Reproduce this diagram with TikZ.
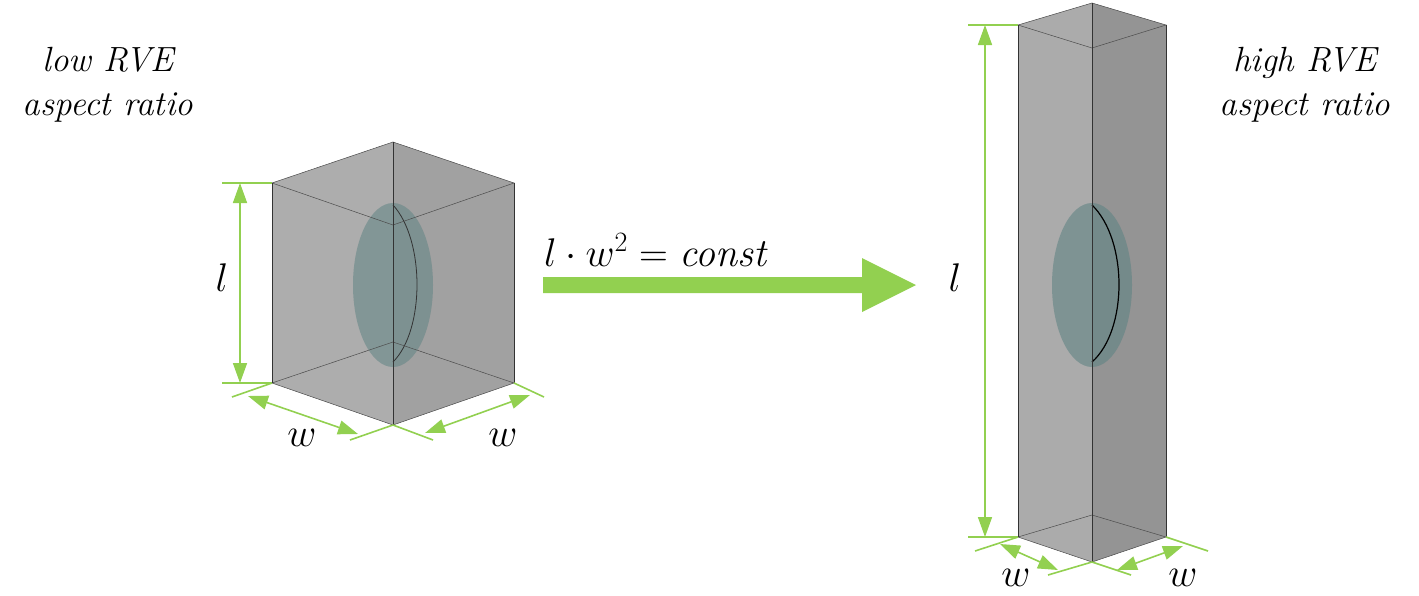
\RequirePackage{fix-cm}
\documentclass[tikz,border=0pt]{standalone}
\usetikzlibrary{arrows.meta}
\begin{document}
\begin{tikzpicture}[x=1pt,y=-1pt,
  lab/.style={font=\fontsize{40}{46}\selectfont, inner sep=0pt},
  ttl/.style={font=\itshape\fontsize{35}{44}\selectfont, align=center, inner sep=0pt},
  edge/.style={draw=black!80, line width=0.8pt},
  hid/.style={draw=black!70, line width=0.5pt}]
\definecolor{gr}{RGB}{146,208,80}
\definecolor{teal1}{RGB}{96,132,132}
\useasboundingbox (0,0) rectangle (1419,595);
\tikzset{dim/.style={draw=gr, line width=1.6pt},
  dima/.style={dim,{Triangle[length=20pt,width=14pt]}-{Triangle[length=20pt,width=14pt]}}}
% titles
\node[ttl] (t1) at (108,85) {low RVE\\aspect ratio};
\node[ttl] (t2) at (1305,85) {high RVE\\aspect ratio};
% left cube
\fill[black!32] (272,183) -- (393,142) -- (393,425) -- (272,383) -- cycle;
\fill[black!37] (514,183) -- (393,142) -- (393,425) -- (514,383) -- cycle;
\fill[teal1] (393,285) ellipse [x radius=40, y radius=82];
\fill[black!32, opacity=0.45] (272,183) -- (393,142) -- (393,425) -- (272,383) -- cycle;
\fill[black!37, opacity=0.45] (514,183) -- (393,142) -- (393,425) -- (514,383) -- cycle;
\draw[black!80, line width=0.8pt] (393,205) .. controls (425,240) and (425,330) .. (393,362);
\draw[hid] (272,183) -- (393,142) -- (514,183) -- (393,225) -- cycle;
\draw[hid] (272,383) -- (393,342) -- (514,383) -- (393,425) -- cycle;
\draw[edge] (272,183) -- (272,383) (514,183) -- (514,383) (393,142) -- (393,425);
% left dims
\coordinate (la) at (240,183); \coordinate (lb) at (240,383);
\draw[dim] (222,183) -- (272,183) (222,383) -- (272,383);
\draw[dima] (la) -- (lb);
\node[lab] (l1) at (222,278) {$l$};
\draw[dim] (272,383) -- (232,397) (393,425) -- (350,440) (393,425) -- (433,440) (514,383) -- (544,397);
\coordinate (w1a) at (248,396); \coordinate (w1b) at (358,434);
\coordinate (w2a) at (425,433); \coordinate (w2b) at (530,395);
\draw[dima] (w1a) -- (w1b);
\draw[dima] (w2a) -- (w2b);
\node[lab] (w1) at (302,438) {$w$};
\node[lab] (w2) at (503,438) {$w$};
% main arrow
\fill[gr] (543,277) -- (862,277) -- (862,258) -- (916,285) -- (862,312) -- (862,293) -- (543,293) -- cycle;
\node[lab, anchor=west] (eq) at (544,250) {$l\cdot w^2 = \mathit{const}$};
% right box
\fill[black!33] (1018,25) -- (1092,3) -- (1092,562) -- (1018,537) -- cycle;
\fill[black!42] (1166,25) -- (1092,3) -- (1092,562) -- (1166,537) -- cycle;
\fill[teal1] (1092,285) ellipse [x radius=40, y radius=82];
\fill[black!33, opacity=0.4] (1018,25) -- (1092,3) -- (1092,562) -- (1018,537) -- cycle;
\fill[black!42, opacity=0.4] (1166,25) -- (1092,3) -- (1092,562) -- (1166,537) -- cycle;
\draw[black, line width=1.2pt] (1092,205) .. controls (1128,240) and (1128,330) .. (1092,362);
\draw[hid] (1018,25) -- (1092,3) -- (1166,25) -- (1092,48) -- cycle;
\draw[hid] (1018,537) -- (1092,515) -- (1166,537) -- (1092,562) -- cycle;
\draw[edge] (1018,25) -- (1018,537) (1166,25) -- (1166,537) (1092,3) -- (1092,562);
% right dims
\coordinate (ra) at (985,25); \coordinate (rb) at (985,537);
\draw[dim] (968,25) -- (1018,25) (968,537) -- (1018,537);
\draw[dima] (ra) -- (rb);
\node[lab] (l2) at (955,278) {$l$};
\draw[dim] (1018,537) -- (975,551) (1092,562) -- (1048,575) (1092,562) -- (1131,575) (1166,537) -- (1208,551);
\coordinate (w3a) at (1000,544); \coordinate (w3b) at (1058,570);
\coordinate (w4a) at (1117,570); \coordinate (w4b) at (1183,546);
\draw[dima] (w3a) -- (w3b);
\draw[dima] (w4a) -- (w4b);
\node[lab] (w3) at (1016,578) {$w$};
\node[lab] (w4) at (1183,578) {$w$};
\end{tikzpicture}
\end{document}
